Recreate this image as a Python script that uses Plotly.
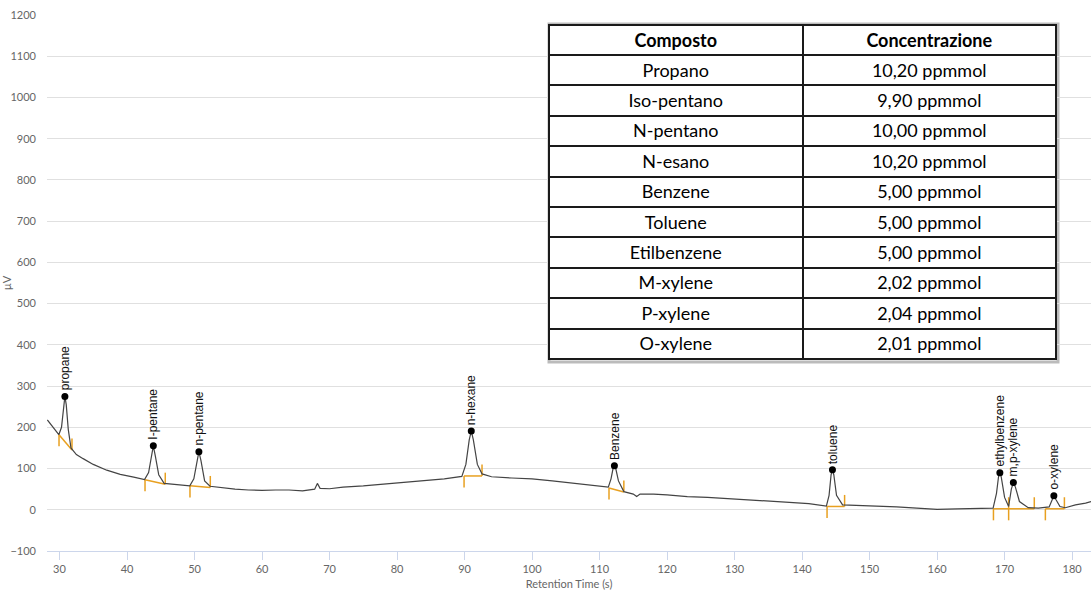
import plotly.graph_objects as go

# ---- chromatogram trace ----
time_s = [28.2, 28.8, 29.4, 29.9, 30.3, 30.6, 30.8, 31.0, 31.3, 31.7, 32.5, 33.5, 35, 37, 39, 41,
          42.6, 43.2, 43.6, 43.9, 44.2, 44.7, 45.5, 47, 49.3, 49.9, 50.35, 50.65, 50.95, 51.5, 52.3,
          54, 56, 58, 60, 62, 64, 66, 67.8, 68.2, 68.6, 70, 72, 75, 78, 81, 84, 87, 89.6,
          90.2, 90.7, 91.0, 91.3, 91.9, 92.6, 94, 97, 100, 103, 106, 109, 111.3,
          111.7, 112.0, 112.2, 112.4, 112.8, 113.6, 115.0, 115.5, 116, 118, 120, 123, 126, 129,
          132, 135, 138, 141, 143.6, 144.0, 144.3, 144.5, 144.7, 145.1, 146.0, 148, 151, 154,
          157, 160, 163, 166, 168.3, 168.8, 169.1, 169.3, 169.5, 170.0, 170.6, 171.0, 171.3,
          171.6, 172.2, 173.5, 175, 176.6, 177.0, 177.3, 177.6, 178.2, 179, 180.5, 182, 182.8]
signal_uv = [218, 205, 195, 182, 200, 255, 275, 255, 195, 150, 134, 124, 110, 96, 86, 79,
             73, 90, 130, 155, 130, 85, 64, 61, 58, 75, 120, 141, 120, 70, 57,
             53, 50, 48, 47, 48, 48, 46, 50, 64, 52, 51, 55, 58, 62, 66, 70, 75, 81,
             110, 170, 191, 170, 110, 87, 80, 77, 75, 70, 64, 58, 55,
             75, 100, 107, 100, 70, 44, 38, 32, 38, 38, 36, 32, 30, 27,
             24, 21, 18, 15, 9, 35, 85, 97, 85, 35, 12, 11, 9, 7,
             4, 1, 2, 3, 4, 40, 80, 90, 80, 30, 8, 50, 66,
             55, 20, 5, 4, 7, 25, 34, 25, 8, 5, 12, 16, 20]

# ---- identified peaks ----
peak_names = ["propane", "I-pentane", "n-pentane", "n-hexane", "Benzene", "toluene",
              "ethylbenzene", "m,p-xylene", "o-xylene"]
peak_time = [30.8, 43.9, 50.65, 91.0, 112.2, 144.5, 169.3, 171.3, 177.3]
peak_uv = [275, 155, 141, 191, 107, 97, 90, 66, 34]

# ---- integration baselines ----
int_t_start = [29.93, 42.67, 49.33, 89.93, 111.4, 143.7, 168.35, 170.6, 176.04]
int_v_start = [182, 73, 58, 82, 53, 8, 2.4, 2.4, 2.4]
int_t_end = [31.85, 45.67, 52.34, 92.59, 113.6, 146.3, 170.6, 174.4, 178.86]
int_v_end = [145, 62, 54, 82, 43, 8, 2.4, 2.4, 2.4]

# ---- table ----
table_header = ["Composto", "Concentrazione"]
compounds = ["Propano", "Iso-pentano", "N-pentano", "N-esano", "Benzene", "Toluene",
             "Etilbenzene", "M-xylene", "P-xylene", "O-xylene"]
concentrations = ["10,20 ppmmol", "9,90 ppmmol", "10,00 ppmmol", "10,20 ppmmol", "5,00 ppmmol",
                  "5,00 ppmmol", "5,00 ppmmol", "2,02 ppmmol", "2,04 ppmmol", "2,01 ppmmol"]

x_ticks = list(range(30, 190, 10))
y_ticks = list(range(-100, 1300, 100))

ORANGE = "#E8A020"
TICK_LEN = 28

fig = go.Figure()

# integration marks
ix, iy = [], []
for ts, vs, te, ve in zip(int_t_start, int_v_start, int_t_end, int_v_end):
    ix += [ts, ts, None, ts, te, None, te, te, None]
    iy += [vs - TICK_LEN, vs, None, vs, ve, None, ve, ve + TICK_LEN, None]
fig.add_trace(go.Scatter(x=ix, y=iy, mode="lines", line=dict(color=ORANGE, width=1.5),
                         hoverinfo="skip", showlegend=False))

fig.add_trace(go.Scatter(x=time_s, y=signal_uv, mode="lines",
                         line=dict(color="#444444", width=1.2), showlegend=False))

fig.add_trace(go.Scatter(x=peak_time, y=peak_uv, mode="markers",
                         marker=dict(color="black", size=7), showlegend=False))

for name, t, v in zip(peak_names, peak_time, peak_uv):
    fig.add_annotation(x=t, y=v, text=name, textangle=-90, showarrow=False,
                       xanchor="center", yanchor="bottom", yshift=4,
                       font=dict(family="Liberation Sans, Arial", size=12, color="#111111"))

L, R, T, B = 47, 0, 15, 45
W, H = 1091, 596
pw, ph = W - L - R, H - T - B

def px_x(p):
    return (p - L) / pw

def px_y(p):
    return (H - B - p) / ph

# soft shadow behind the table
fig.add_shape(type="rect", xref="paper", yref="paper",
              x0=px_x(549), x1=px_x(1058), y0=px_y(362), y1=px_y(24),
              line=dict(color="#bbbbbb", width=3), fillcolor="white", layer="below")

fig.add_trace(go.Table(
    domain=dict(x=[px_x(549), px_x(1056)], y=[px_y(360), px_y(25)]),
    columnwidth=[1, 1],
    header=dict(values=table_header, height=30,
                fill_color="white", line=dict(color="#1a1a1a", width=2),
                align="center", font=dict(family="Lato", size=18, color="black", weight="bold")),
    cells=dict(values=[compounds, concentrations], height=30.4,
               fill_color="white", line=dict(color="#1a1a1a", width=2),
               align="center", font=dict(family="Lato", size=18, color="black")),
))

fig.update_layout(
    width=W, height=H,
    margin=dict(l=L, r=R, t=T, b=B),
    plot_bgcolor="rgba(0,0,0,0)", paper_bgcolor="white",
    font=dict(family="Lato", size=11, color="#666666"),
)
fig.update_xaxes(range=[28.15, 182.8], tickvals=x_ticks, showgrid=False, zeroline=False,
                 showline=True, linecolor="#ccd6eb", linewidth=1,
                 ticks="outside", ticklen=8, tickcolor="#ccd6eb",
                 tickfont=dict(size=11, color="#666666"),
                 title=dict(text="Retention Time (s)", font=dict(size=11, color="#666666"), standoff=6))
fig.update_yaxes(range=[-100, 1200], tickvals=y_ticks, showgrid=True, gridcolor="#e0e0e0",
                 gridwidth=1, zeroline=False, showline=False, ticks="",
                 ticklabelstandoff=10,
                 tickfont=dict(size=11, color="#666666"),
                 title=dict(text="µV", font=dict(size=11, color="#666666"), standoff=4))

fig.write_html("out.html")
